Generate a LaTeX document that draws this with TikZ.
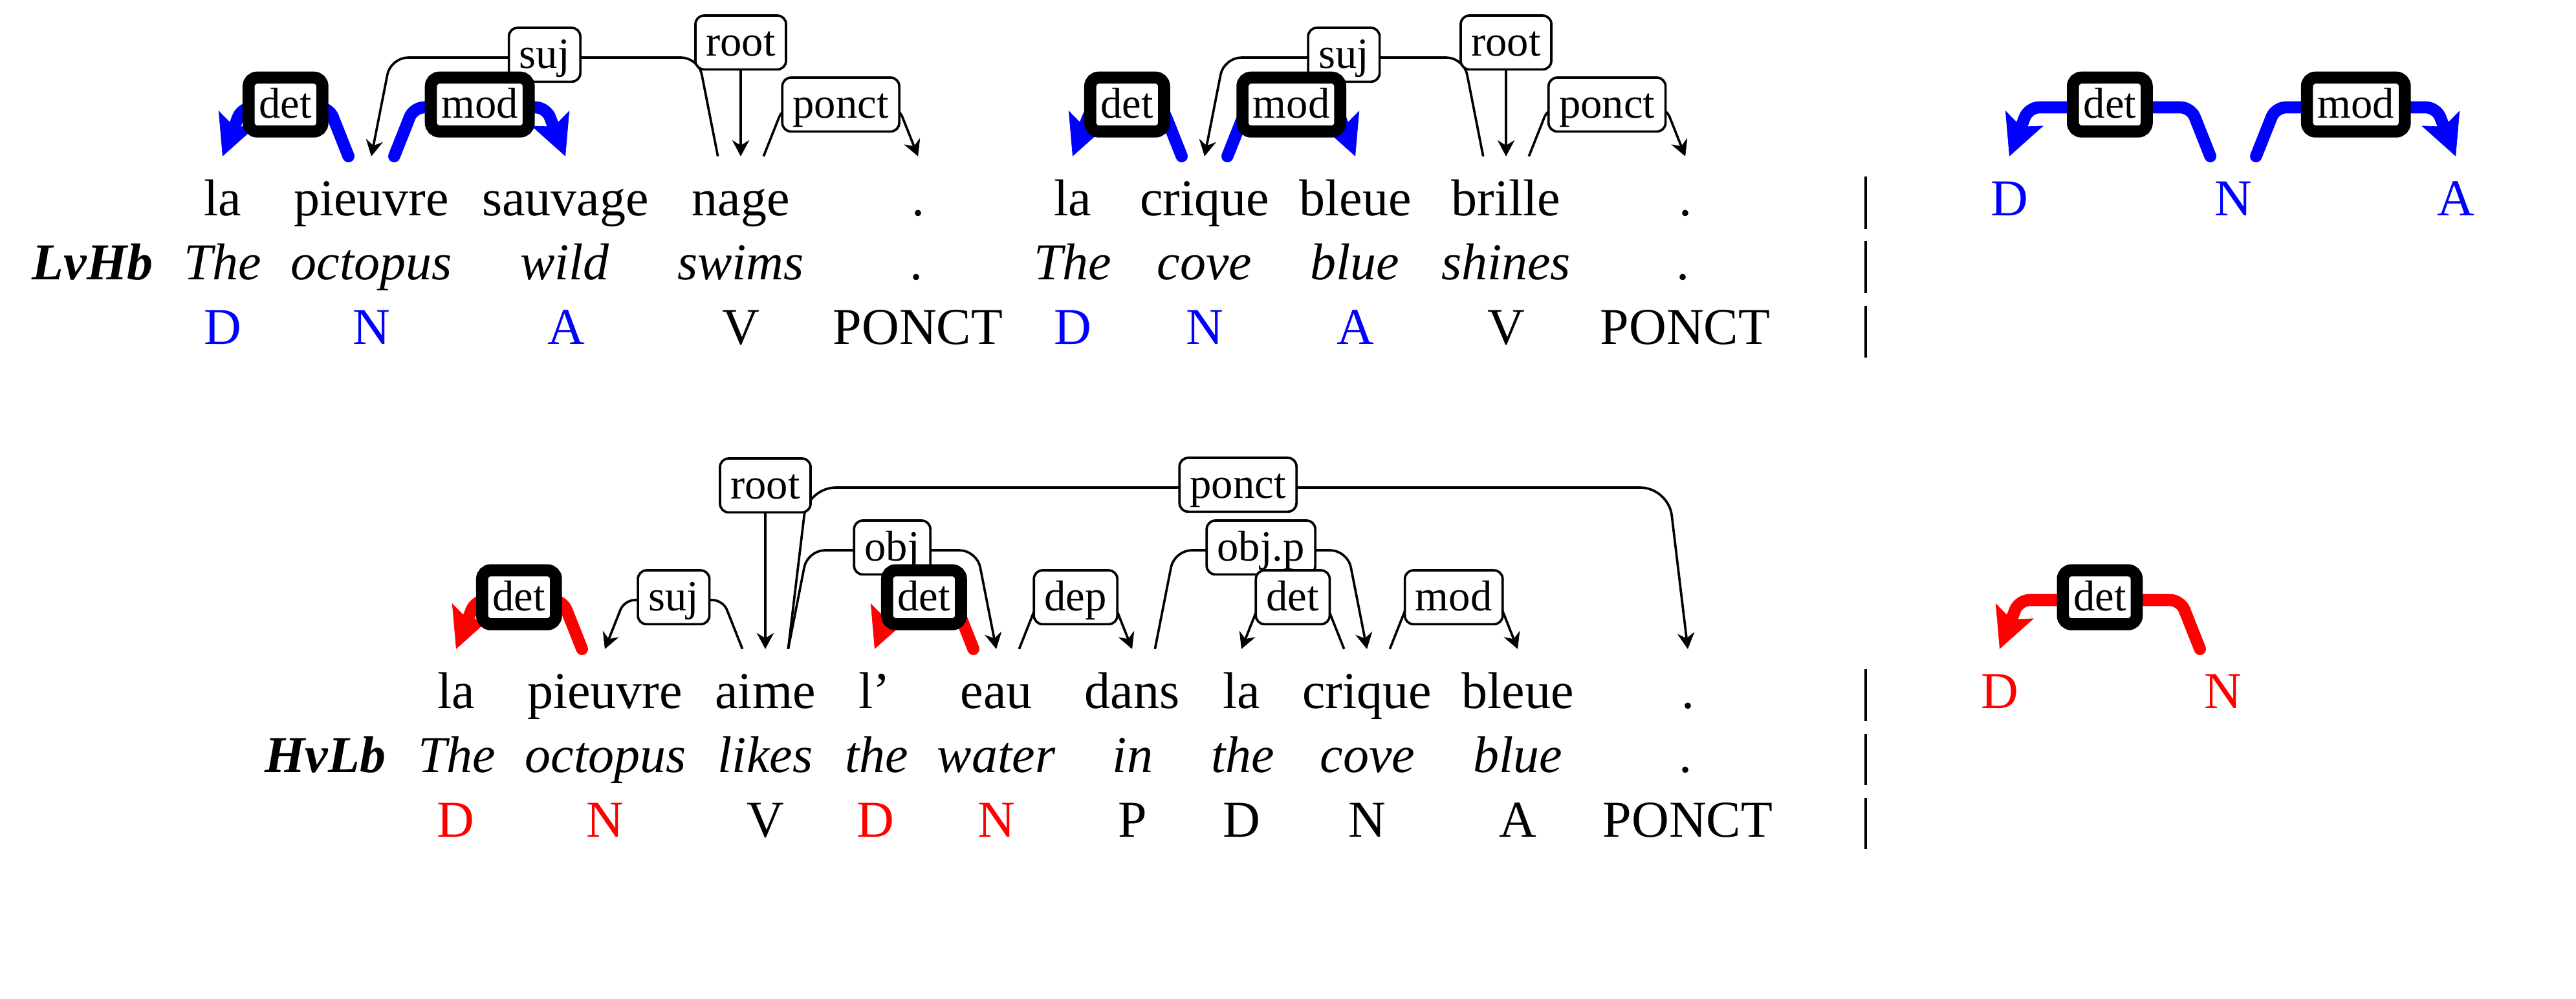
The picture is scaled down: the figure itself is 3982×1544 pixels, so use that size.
\documentclass[tikz,border=0pt]{standalone}
\usepackage{fontspec}
\setmainfont{Liberation Serif}
\newfontfamily\serwords{Liberation Serif}
\usetikzlibrary{arrows.meta}
\newcommand\wordfont{\serwords\fontsize{12}{14}\selectfont}
\newcommand\labfont{\serwords\fontsize{10}{12}\selectfont}
% #1 style, #2 source, #3 target, #4 direction, #5 level y, #6 corner radius, #7 label style, #8 label name, #9 label text
\newcommand\dedge[9]{%
  \draw[#1,rounded corners=#6] ([xshift={(#4)*5.3pt}]#2.north)
    -- ([xshift={(#4)*9.8pt}]#2.north |- 0,#5)
    -- node[#7] (#8) {#9} ([xshift={-(#4)*4.5pt}]#3.north |- 0,#5)
    -- (#3.north);}
\tikzset{
  word/.style={anchor=base, inner xsep=0pt, inner ysep=3.5pt, text height=10pt, text depth=3pt, font=\wordfont},
  gl/.style={anchor=base, inner sep=0pt, font=\wordfont\itshape},
  postag/.style={anchor=base, inner sep=0pt, font=\wordfont},
  lab/.style={draw=black, text=black, fill=white, line width=0.55pt, rounded corners=2pt,
    inner xsep=2.45pt, inner ysep=1.8pt, text height=7.5pt, text depth=1.4pt, font=\labfont, yshift=0.65pt},
  labthick/.style={lab, line width=2.8pt},
  dep/.style={black, line width=0.55pt, -{Stealth[length=3.75pt,width=4pt,inset=1.25pt,line width=0.1pt]}},
  depthick/.style={line width=2.8pt, line cap=round, -{Stealth[length=9.5pt,width=9.5pt,inset=2.1pt,line width=0.1pt]}},
  rootarrow/.style={black, line width=0.55pt, -{Stealth[length=3.75pt,width=4pt,inset=1.25pt,line width=0.1pt]}},
  bar/.style={line width=0.6pt}
}
\begin{document}
\begin{tikzpicture}[x=0.15pt,y=-0.15pt]
\useasboundingbox (0,0) rectangle (3982,1544);

% ---------- sentence 1 ----------
\node[word] (a1) at (344,333) {la};
\node[word] (a2) at (574,333) {pieuvre};
\node[word] (a3) at (874,333) {sauvage};
\node[word] (a4) at (1145,333) {nage};
\node[word] (a5) at (1419,333) {.};
\node[gl,font=\wordfont\bfseries\itshape] (lv) at (143,432) {LvHb};
\node[gl] (ga1) at (344,432) {The};
\node[gl] (ga2) at (574,432) {octopus};
\node[gl] (ga3) at (873,432) {wild};
\node[gl] (ga4) at (1145,432) {swims};
\node[gl] (ga5) at (1418,432) {.};
\node[postag,blue] (pa1) at (344,532) {D};
\node[postag,blue] (pa2) at (574,532) {N};
\node[postag,blue] (pa3) at (875,532) {A};
\node[postag] (pa4) at (1145,532) {V};
\node[postag] (pa5) at (1419,532) {PONCT};

% ---------- sentence 2 ----------
\node[word] (b1) at (1658,333) {la};
\node[word] (b2) at (1862,333) {crique};
\node[word] (b3) at (2095,333) {bleue};
\node[word] (b4) at (2328,333) {brille};
\node[word] (b5) at (2605,333) {.};
\node[gl] (gb1) at (1658,432) {The};
\node[gl] (gb2) at (1862,432) {cove};
\node[gl] (gb3) at (2094,432) {blue};
\node[gl] (gb4) at (2328,432) {shines};
\node[gl] (gb5) at (2603,432) {.};
\node[postag,blue] (pb1) at (1658,532) {D};
\node[postag,blue] (pb2) at (1862,532) {N};
\node[postag,blue] (pb3) at (2095,532) {A};
\node[postag] (pb4) at (2328,532) {V};
\node[postag] (pb5) at (2605,532) {PONCT};

% ---------- sentence 3 ----------
\node[word] (c1) at (705,1095) {la};
\node[word] (c2) at (935,1095) {pieuvre};
\node[word] (c3) at (1183,1095) {aime};
\node[word] (c4) at (1352,1095) {l’};
\node[word] (c5) at (1540,1095) {eau};
\node[word] (c6) at (1750,1095) {dans};
\node[word] (c7) at (1919,1095) {la};
\node[word] (c8) at (2113,1095) {crique};
\node[word] (c9) at (2346,1095) {bleue};
\node[word] (c10) at (2609,1095) {.};
\node[gl,font=\wordfont\bfseries\itshape] (hv) at (503,1194) {HvLb};
\node[gl] (gc1) at (706,1194) {The};
\node[gl] (gc2) at (936,1194) {octopus};
\node[gl] (gc3) at (1183,1194) {likes};
\node[gl] (gc4) at (1355,1194) {the};
\node[gl] (gc5) at (1540,1194) {water};
\node[gl] (gc6) at (1751,1194) {in};
\node[gl] (gc7) at (1921,1194) {the};
\node[gl] (gc8) at (2114,1194) {cove};
\node[gl] (gc9) at (2346,1194) {blue};
\node[gl] (gc10) at (2607,1194) {.};
\node[postag,red] (pc1) at (704,1294) {D};
\node[postag,red] (pc2) at (935,1294) {N};
\node[postag] (pc3) at (1183,1294) {V};
\node[postag,red] (pc4) at (1353,1294) {D};
\node[postag,red] (pc5) at (1540,1294) {N};
\node[postag] (pc6) at (1751,1294) {P};
\node[postag] (pc7) at (1919,1294) {D};
\node[postag] (pc8) at (2113,1294) {N};
\node[postag] (pc9) at (2346,1294) {A};
\node[postag] (pc10) at (2609,1294) {PONCT};

% ---------- small graphs ----------
\node[word,blue] (g1) at (3106,333) {D};
\node[word,blue] (g2) at (3452,333) {N};
\node[word,blue] (g3) at (3796,333) {A};
\node[word,red] (h1) at (3091,1095) {D};
\node[word,red] (h2) at (3436,1095) {N};

% ---------- separator bars ----------
\draw[bar] (2884,273) -- (2884,354);
\draw[bar] (2884,373) -- (2884,453);
\draw[bar] (2884,473) -- (2884,553);
\draw[bar] (2884,1035) -- (2884,1115);
\draw[bar] (2884,1135) -- (2884,1214);
\draw[bar] (2884,1234) -- (2884,1313);

% ---------- edges sentence 1 ----------
\dedge{dep}{a4}{a2}{-1}{89}{4pt}{lab}{la1}{suj}
\node[lab] (ra) at (a4 |- 0,70) {root};
\draw[rootarrow] (ra) -- (a4.north);
\dedge{dep}{a4}{a5}{1}{166}{2.4pt}{lab}{la2}{ponct}
\dedge{depthick,blue}{a2}{a1}{-1}{166}{2.4pt}{labthick}{la3}{det}
\dedge{depthick,blue}{a2}{a3}{1}{166}{2.4pt}{labthick}{la4}{mod}

% ---------- edges sentence 2 ----------
\dedge{dep}{b4}{b2}{-1}{89}{4pt}{lab}{lb1}{suj}
\node[lab] (rb) at (b4 |- 0,70) {root};
\draw[rootarrow] (rb) -- (b4.north);
\dedge{dep}{b4}{b5}{1}{166}{2.4pt}{lab}{lb2}{ponct}
\dedge{depthick,blue}{b2}{b1}{-1}{166}{2.4pt}{labthick}{lb3}{det}
\dedge{depthick,blue}{b2}{b3}{1}{166}{2.4pt}{labthick}{lb4}{mod}

% ---------- edges sentence 3 ----------
\dedge{dep}{c3}{c10}{1}{754}{6.5pt}{lab}{lc1}{ponct}
\node[lab] (rc) at (c3 |- 0,755) {root};
\draw[rootarrow] (rc) -- (c3.north);
\dedge{dep}{c3}{c5}{1}{851}{4pt}{lab}{lc2}{obj}
\dedge{dep}{c6}{c8}{1}{851}{4pt}{lab}{lc3}{obj.p}
\dedge{dep}{c3}{c2}{-1}{928}{2.4pt}{lab}{lc4}{suj}
\dedge{dep}{c5}{c6}{1}{928}{2.4pt}{lab}{lc5}{dep}
\dedge{dep}{c8}{c7}{-1}{928}{2.4pt}{lab}{lc6}{det}
\dedge{dep}{c8}{c9}{1}{928}{2.4pt}{lab}{lc7}{mod}
\dedge{depthick,red}{c2}{c1}{-1}{928}{2.4pt}{labthick}{lc8}{det}
\dedge{depthick,red}{c5}{c4}{-1}{928}{2.4pt}{labthick}{lc9}{det}

% ---------- small graph edges ----------
\dedge{depthick,blue}{g2}{g1}{-1}{166}{2.4pt}{labthick}{lg1}{det}
\dedge{depthick,blue}{g2}{g3}{1}{166}{2.4pt}{labthick}{lg2}{mod}
\dedge{depthick,red}{h2}{h1}{-1}{928}{2.4pt}{labthick}{lh1}{det}
\end{tikzpicture}
\end{document}
